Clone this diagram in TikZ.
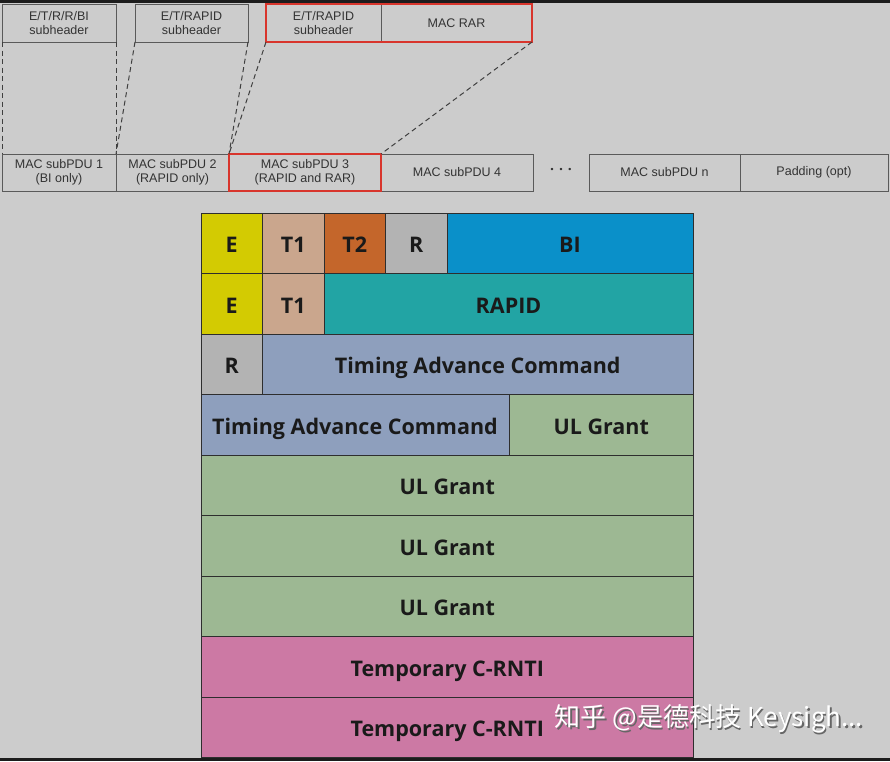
\documentclass[tikz,border=0pt]{standalone}
\usepackage{fontspec}
\setmainfont{Open Sans}
\newfontfamily\hdrfont{Liberation Sans}
\newfontfamily\cjk{Noto Sans CJK SC}
\usetikzlibrary{positioning}
\definecolor{bg}{HTML}{CCCCCC}
\definecolor{frame}{HTML}{1C1C1C}
\definecolor{boxline}{HTML}{5A5A5A}
\definecolor{hdrtext}{HTML}{333333}
\definecolor{redline}{HTML}{D8352C}
\definecolor{cellline}{HTML}{2E2E2E}
\definecolor{celltext}{HTML}{1A1A1A}
\definecolor{cE}{HTML}{D3CB02}
\definecolor{cT1}{HTML}{CAA68D}
\definecolor{cT2}{HTML}{C4662B}
\definecolor{cR}{HTML}{B3B3B3}
\definecolor{cBI}{HTML}{0A90C9}
\definecolor{cRAPID}{HTML}{22A4A4}
\definecolor{cTAC}{HTML}{8E9FBD}
\definecolor{cUL}{HTML}{9DB893}
\definecolor{cRNTI}{HTML}{CC79A4}
\begin{document}
\begin{tikzpicture}[x=1pt,y=-1pt,node distance=0pt,
  hdr/.style={draw=boxline,line width=0.8pt,fill=bg,minimum height=38pt,inner sep=0pt,outer sep=0pt,align=center,text=hdrtext,font=\hdrfont\fontsize{12.5}{14.5}\selectfont},
  pdu/.style={hdr,minimum height=37pt},
  cell/.style={draw=cellline,line width=0.8pt,minimum height=60.5pt,inner sep=0pt,outer sep=0pt,text height=18.5pt,text depth=0pt,text=celltext,font=\bfseries\fontsize{21.5}{24}\selectfont},
  redbox/.style={draw=redline,line width=1.8pt},
  link/.style={draw=boxline!70!black,dashed,dash pattern=on 5pt off 3.5pt,line width=1pt}]
  \fill[bg] (0,0) rectangle (890,761);
  \fill[frame] (0,0) rectangle (890,2.5);
  \fill[frame] (0,757.5) rectangle (890,761);

  \node[hdr,minimum width=114pt,anchor=north west] (sh1) at (2,4) {E/T/R/R/BI\\subheader};
  \node[hdr,minimum width=113pt,anchor=north west] (sh2) at (135,4) {E/T/RAPID\\subheader};
  \node[hdr,minimum width=115pt,anchor=north west] (sh3) at (266,4) {E/T/RAPID\\subheader};
  \node[hdr,minimum width=151pt] (rar) [right=of sh3] {MAC RAR};
  \draw[redbox] (sh3.north west) rectangle (rar.south east);

  \node[pdu,minimum width=114pt,anchor=north west] (pdu1) at (2,154) {MAC subPDU 1\\(BI only)};
  \node[pdu,minimum width=113pt] (pdu2) [right=of pdu1] {MAC subPDU 2\\(RAPID only)};
  \node[pdu,minimum width=152pt] (pdu3) [right=of pdu2] {MAC subPDU 3\\(RAPID and RAR)};
  \node[pdu,minimum width=152pt] (pdu4) [right=of pdu3] {MAC subPDU 4};
  \node[text=hdrtext,font=\bfseries\fontsize{14}{14}\selectfont] (dots) at (561,170) {. . .};
  \node[pdu,minimum width=151pt,anchor=north west] (pdun) at (589,154) {MAC subPDU n};
  \node[pdu,minimum width=148pt] (pad) [right=of pdun] {Padding (opt)};
  \draw[redbox] (pdu3.north west) rectangle (pdu3.south east);

  \path[link]
    (sh1.south west) edge (pdu1.north west)
    (sh1.south east) edge (pdu1.north east)
    (sh2.south west) edge (pdu2.north west)
    (sh2.south east) edge (pdu3.north west)
    (sh3.south west) edge (pdu3.north west)
    (rar.south east) edge (pdu3.north east);

  \node[cell,fill=cE,minimum width=61.5pt,anchor=north west] (e1) at (201,213) {E};
  \node[cell,fill=cT1,minimum width=61.5pt] (t1a) [right=of e1] {T1};
  \node[cell,fill=cT2,minimum width=61.5pt] (t2) [right=of t1a] {T2};
  \node[cell,fill=cR,minimum width=61.5pt] (r1) [right=of t2] {R};
  \node[cell,fill=cBI,minimum width=246pt] (bi) [right=of r1] {BI};

  \node[cell,fill=cE,minimum width=61.5pt] (e2) [below=of e1] {E};
  \node[cell,fill=cT1,minimum width=61.5pt] (t1b) [right=of e2] {T1};
  \node[cell,fill=cRAPID,minimum width=369pt] (rapid) [right=of t1b] {RAPID};

  \node[cell,fill=cR,minimum width=61.5pt] (r3) [below=of e2] {R};
  \node[cell,fill=cTAC,minimum width=430.5pt] (tac1) [right=of r3] {Timing Advance Command};

  \node[cell,fill=cTAC,minimum width=308pt,anchor=north west] (tac2) at (r3.south west) {Timing Advance Command};
  \node[cell,fill=cUL,minimum width=184.5pt] (ul1) [right=of tac2] {UL Grant};

  \node[cell,fill=cUL,minimum width=492.5pt,anchor=north west] (ul2) at (tac2.south west) {UL Grant};
  \node[cell,fill=cUL,minimum width=492.5pt] (ul3) [below=of ul2] {UL Grant};
  \node[cell,fill=cUL,minimum width=492.5pt] (ul4) [below=of ul3] {UL Grant};
  \node[cell,fill=cRNTI,minimum width=492.5pt] (rnti1) [below=of ul4] {Temporary C-RNTI};
  \node[cell,fill=cRNTI,minimum width=492.5pt] (rnti2) [below=of rnti1] {Temporary C-RNTI};

  \node[text=black!60,font=\cjk\fontsize{26}{28}\selectfont] at (710.5,720.5) {知乎 @是德科技 Keysigh...};
  \node[text=white,font=\cjk\fontsize{26}{28}\selectfont] (mark) at (709,719) {知乎 @是德科技 Keysigh...};
\end{tikzpicture}
\end{document}
